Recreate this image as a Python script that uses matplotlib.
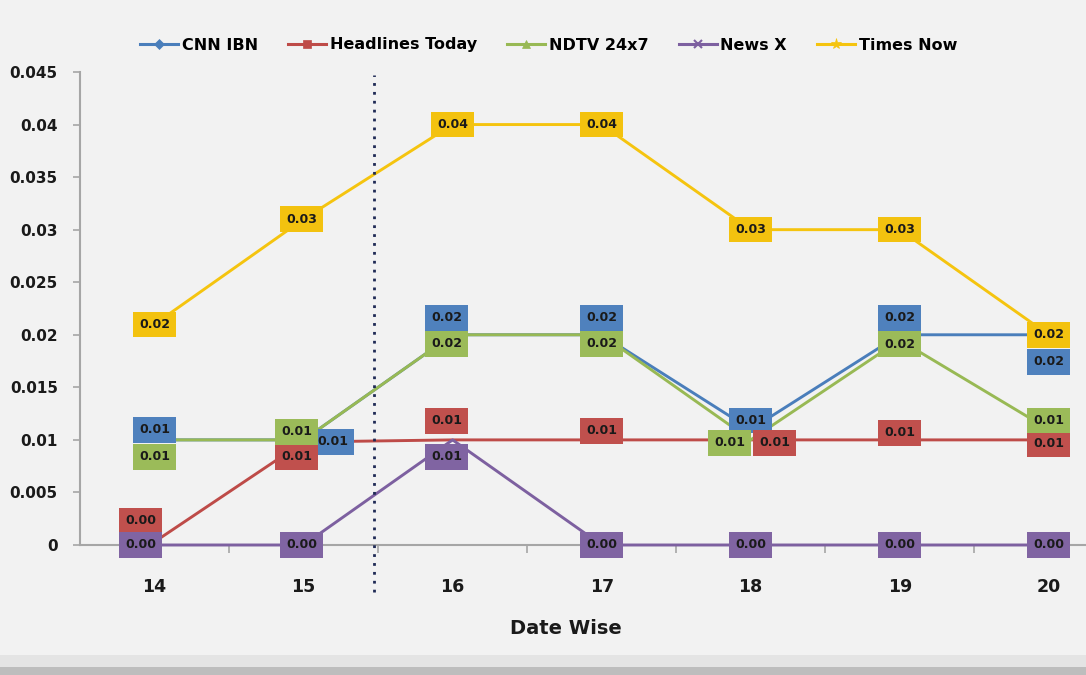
import matplotlib
matplotlib.use('Agg')
import matplotlib.pyplot as plt
from matplotlib.lines import Line2D
from matplotlib.patches import Rectangle

# data
dates = [14, 15, 16, 17, 18, 19, 20]
series_names = ['CNN IBN', 'Headlines Today', 'NDTV 24x7', 'News X', 'Times Now']
cnn_ibn = [0.010, 0.010, 0.020, 0.020, 0.011, 0.020, 0.020]
headlines_today = [0.0003, 0.0098, 0.010, 0.010, 0.010, 0.010, 0.010]
ndtv_24x7 = [0.010, 0.010, 0.020, 0.020, 0.010, 0.0195, 0.011]
news_x = [0.0, 0.0, 0.010, 0.0, 0.0, 0.0, 0.0]
times_now = [0.021, 0.031, 0.040, 0.040, 0.030, 0.030, 0.020]
y_ticks = [0, 0.005, 0.01, 0.015, 0.02, 0.025, 0.03, 0.035, 0.04, 0.045]
y_tick_labels = ['0', '0.005', '0.01', '0.015', '0.02', '0.025', '0.03', '0.035', '0.04', '0.045']
x_label = 'Date Wise'

all_series = [cnn_ibn, headlines_today, ndtv_24x7, news_x, times_now]

# styles
line_colors = ['#4A7EBB', '#BE4B48', '#98B954', '#7D60A0', '#F5C40F']
box_colors = ['#4F81BD', '#C0504D', '#9BBB59', '#8064A2', '#F3C20F']
legend_markers = ['D', 's', '^', 'x', '*']
# label box offsets in pixels (dx right, dy down), one per point
label_offsets = [
    [(0, -10), (29, 2), (-6, -17), (0, -17), (0, -9), (0, -17), (0, 27)],
    [(-14, -21), (-7, 15), (-6, -19), (0, -9), (24, 3), (0, -7), (0, 4)],
    [(0, 17), (-7, -8), (-6, 9), (0, 9), (-21, 3), (0, 4), (0, -9)],
    [(-14, 0), (-2, 0), (-6, 17), (0, 0), (0, 0), (0, 0), (0, 0)],
    [(0, 0), (-2, 0), (0, 0), (0, 0), (0, 0), (0, 0), (0, 0)],
]
divider_x = 15.47
bg = '#F2F2F2'
axis_gray = '#A6A6A6'

fig = plt.figure(figsize=(10.86, 6.75), dpi=100, facecolor=bg)
ax = fig.add_axes([80 / 1086, 1 - 545 / 675, 1006 / 1086, 473 / 675])
ax.set_facecolor(bg)

for i, vals in enumerate(all_series):
    ax.plot(dates, vals, color=line_colors[i], lw=2.1, zorder=2 + i * 0.1,
            solid_capstyle='butt', clip_on=False)

for i, vals in enumerate(all_series):
    for j, (x, y) in enumerate(zip(dates, vals)):
        dx, dy = label_offsets[i][j]
        ax.annotate("{:.2f}".format(y), (x, y), xytext=(dx, -dy), textcoords='offset pixels',
                    ha='center', va='center', fontsize=9, fontweight='bold', color='#1A1A1A',
                    bbox=dict(boxstyle='square,pad=0.5', fc=box_colors[i], ec='none'),
                    zorder=5 + i, annotation_clip=False)

# dotted divider
ax.plot([divider_x, divider_x], [-0.0045, 0.0447], color='#1F2A55', lw=2,
        linestyle=(0, (1, 2.2)), clip_on=False, zorder=4)

ax.set_xlim(13.5, 20.25)
ax.set_ylim(0, 0.045)
ax.set_xticks(dates)
ax.set_xticklabels([str(d) for d in dates], fontsize=12.5, fontweight='bold', color='#1A1A1A')
ax.set_xticks([d + 0.5 for d in dates[:-1]], minor=True)
ax.tick_params(axis='x', which='major', length=0, pad=24)
ax.tick_params(axis='x', which='minor', length=6, width=1.2, color=axis_gray, direction='out')
ax.set_yticks(y_ticks)
ax.set_yticklabels(y_tick_labels, fontsize=11, fontweight='bold', color='#1A1A1A')
ax.tick_params(axis='y', length=5, width=1.2, color=axis_gray, pad=11)

for s in ['top', 'right']:
    ax.spines[s].set_visible(False)
for s in ['left', 'bottom']:
    ax.spines[s].set_color(axis_gray)
    ax.spines[s].set_linewidth(1.5)
ax.spines['bottom'].set_zorder(1)

fig.text(566 / 1086, 1 - 628 / 675, x_label, ha='center', va='center',
         fontsize=14, fontweight='bold', color='#1A1A1A')

handles = [Line2D([0], [0], color=line_colors[i], lw=2.2, marker=legend_markers[i],
                  markersize=8 if legend_markers[i] == '*' else 5.5,
                  markeredgewidth=1.5 if legend_markers[i] == 'x' else 0.5)
           for i in range(len(series_names))]
fig.legend(handles, series_names, loc='center left', bbox_to_anchor=(140 / 1086, 1 - 45 / 675),
           ncol=5, frameon=False, prop={'size': 11.5, 'weight': 'bold'},
           handlelength=2.4, handletextpad=0.2, columnspacing=1.9,
           borderpad=0, borderaxespad=0)

# bottom strip
fig.patches.append(Rectangle((0, 0), 1, 20 / 675, transform=fig.transFigure,
                             fc='#E4E4E4', ec='none', zorder=0))
fig.patches.append(Rectangle((0, 0), 1, 8 / 675, transform=fig.transFigure,
                             fc='#BDBDBD', ec='none', zorder=0))

fig.savefig('out.png', dpi=100, facecolor=bg)
